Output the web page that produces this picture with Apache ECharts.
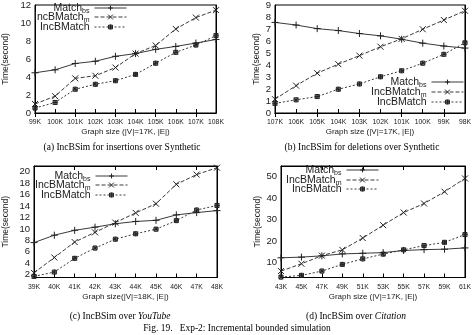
<!DOCTYPE html>
<html>
<head>
<meta charset="utf-8">
<script src="https://cdn.jsdelivr.net/npm/echarts@6/dist/echarts.min.js"></script>
<style>
html,body{margin:0;padding:0;background:#fff}
#c{width:474px;height:335px}
</style>
</head>
<body>
<div id="c"></div>
<script>
// Graph sizes on the x axes
const sizesA = ['99K','100K','101K','102K','103K','104K','105K','106K','107K','108K'];
const sizesB = ['107K','106K','105K','104K','103K','102K','101K','100K','99K','98K'];
const sizesC = ['39K','40K','41K','42K','43K','44K','45K','46K','47K','48K'];
const sizesD = ['43K','45K','47K','49K','51K','53K','55K','57K','59K','61K'];

// (a) insertions over Synthetic
const matchBsA = [4.47,4.8,5.5,5.75,6.3,6.6,7.07,7.4,7.77,8.17];
const incMA    = [1.0,1.87,3.85,4.14,5.05,6.6,7.5,9.34,10.6,11.43];
const incA     = [0.55,1.17,2.64,3.19,3.59,4.29,5.53,6.74,7.55,8.6];

// (b) deletions over Synthetic
const matchBsB = [7.55,7.33,7.03,6.87,6.62,6.43,6.15,5.82,5.58,5.41];
const incMB    = [1.15,2.28,3.32,4.07,4.78,5.52,6.18,6.98,7.75,8.52];
const incB     = [0.8,1.1,1.37,1.98,2.42,3.02,3.52,4.15,4.89,5.85];

// (c) YouTube
const matchBsC = [7.6,8.9,9.75,10.3,10.9,11.3,11.5,12.45,12.85,13.2];
const incMC    = [2.3,5.0,7.7,9.4,11.1,12.8,14.4,17.8,19.5,20.7];
const incC     = [1.7,2.45,4.85,6.65,8.2,9.15,9.95,11.45,13.3,14.1];

// (d) Citation
const matchBsD = [12.2,12.5,13.1,14.0,14.3,14.6,15.6,16.0,16.2,16.8];
const incMD    = [6.0,9.4,13.2,15.9,21.4,27.4,33.3,37.5,43.0,49.2];
const incD     = [3.2,4.0,6.0,9.1,11.7,13.9,15.9,17.9,19.4,23.0];

// Y tick labels
const ticksA = [0,2,4,6,8,10,12];
const ticksB = [0,1,2,3,4,5,6,7,8,9];
const ticksC = [2,4,6,8,10,12,14,16,18,20];
const ticksD = [10,20,30,40,50];

const SANS = 'Liberation Sans';
const SERIF = 'Liberation Serif';
const INK = '#1a1a1a';
const LINE = '#3a3a3a';

const NAME_BS = 'Match_bs', NAME_M = 'IncBMatch_m', NAME_I = 'IncBMatch';

const panels = [
  {grid:{left:31, top:4, width:185, height:109}, cats:sizesA, ticks:ticksA, min:0, max:12,
   xName:'Graph size (|V|=17K, |E|)', data:[matchBsA, incMA, incA], yGap:25,
   legend:{right:347, tops:[2.5, 11.5, 21.5]}},
  {grid:{left:275, top:4, width:192, height:109}, cats:sizesB, ticks:ticksB, min:0, max:9,
   xName:'Graph size (|V|=17K, |E|)', data:[matchBsB, incMB, incB], yGap:14,
   legend:{right:10, tops:[76.5, 86.5, 96.5]}},
  {grid:{left:30, top:166, width:187, height:111.5}, cats:sizesC, ticks:ticksC, min:1.5, max:21,
   xName:'Graph size(|V|=18K, |E|)', data:[matchBsC, incMC, incC], yGap:24,
   legend:{right:346, tops:[170.5, 179.5, 189.5]}},
  {grid:{left:281, top:166, width:186, height:111.5}, cats:sizesD, ticks:ticksD, min:3, max:55,
   xName:'Graph size (|V|=17K, |E|)', data:[matchBsD, incMD, incD], yGap:18,
   legend:{right:95, tops:[164.5, 174.5, 183.5]}}
];

const seriesStyle = [
  {name:NAME_BS, symbol:'path://M0,5L10,5M5,0L5,10', symbolSize:7, dash:'solid'},
  {name:NAME_M,  symbol:'path://M0,0L10,10M10,0L0,10', symbolSize:6, dash:[4,2]},
  {name:NAME_I,  symbol:'path://M1,1L9,1L9,9L1,9ZM0,5L10,5M5,0L5,10M1,1L9,9M9,1L1,9', symbolSize:5, dash:[2,2]}
];

const grids = [], xAxes = [], yAxes = [], series = [], legends = [];
const markStyle = {color:'transparent', borderColor:'#222', borderWidth:1};

panels.forEach((p, i) => {
  grids.push(Object.assign({show:true, borderColor:'#000', borderWidth:1, containLabel:false}, p.grid));
  const tickStyle = {inside:true, length:4, lineStyle:{color:'#000', width:1}};
  xAxes.push({
    type:'category', gridIndex:i, data:p.cats, boundaryGap:false, position:'bottom',
    axisLine:{show:true, lineStyle:{color:'#000', width:1}},
    axisTick:tickStyle,
    axisLabel:{interval:0, fontSize:6.8, color:INK, margin:6, fontFamily:SANS},
    splitLine:{show:false},
    name:p.xName, nameLocation:'middle', nameGap:15,
    nameTextStyle:{fontSize:8, color:INK, fontFamily:SANS}
  });
  xAxes.push({
    type:'category', gridIndex:i, data:p.cats, boundaryGap:false, position:'top',
    axisLine:{show:true, lineStyle:{color:'#000', width:1}},
    axisTick:tickStyle, axisLabel:{show:false}, splitLine:{show:false}
  });
  yAxes.push({
    type:'value', gridIndex:i, min:p.min, max:p.max, position:'left',
    axisLine:{show:true, lineStyle:{color:'#000', width:1}},
    axisTick:Object.assign({customValues:p.ticks}, tickStyle),
    axisLabel:{customValues:p.ticks, fontSize:9.5, color:INK, margin:4, fontFamily:SANS},
    splitLine:{show:false},
    name:'Time(second)', nameLocation:'middle', nameGap:p.yGap, nameRotate:90,
    nameTextStyle:{fontSize:8.5, color:INK, fontFamily:SANS}
  });
  yAxes.push({
    type:'value', gridIndex:i, min:p.min, max:p.max, position:'right',
    axisLine:{show:true, lineStyle:{color:'#000', width:1}},
    axisTick:Object.assign({customValues:p.ticks}, tickStyle),
    axisLabel:{show:false}, splitLine:{show:false}
  });
  seriesStyle.forEach((s, k) => {
    series.push({
      type:'line', name:s.name, xAxisIndex:2*i, yAxisIndex:2*i,
      data:p.data[k], symbol:s.symbol, symbolSize:s.symbolSize, showAllSymbol:true,
      lineStyle:{color:LINE, width:1, type:s.dash},
      itemStyle:markStyle,
      emphasis:{disabled:true}, animation:false, z:3
    });
    legends.push({
      data:[s.name], orient:'vertical', align:'right', right:p.legend.right, top:p.legend.tops[k],
      padding:0, itemWidth:32, itemHeight:6, selectedMode:false, z:5,
      itemStyle:markStyle,
      lineStyle:{color:LINE, width:1, type:s.dash},
      formatter:function (name) {
        if (name === NAME_BS) return '{n|Match}{s|bs}';
        if (name === NAME_M) return '{n|IncBMatch}{s|m}';
        return '{n|IncBMatch}';
      },
      textStyle:{
        color:INK, fontFamily:SANS, fontSize:10.5,
        rich:{
          n:{fontSize:10.5, fontFamily:SANS, color:INK},
          s:{fontSize:7, fontFamily:SANS, color:INK, padding:[6,0,0,0]}
        }
      }
    });
  });
});

const captionStyle = {fontFamily:SERIF, fontSize:9.5, fontWeight:'normal', color:'#000',
  rich:{
    n:{fontFamily:SERIF, fontSize:9.5, color:'#000'},
    i:{fontFamily:SERIF, fontSize:9.5, fontStyle:'italic', color:'#000'}
  }};

const titles = [
  {text:'(a) IncBSim for insertions over Synthetic', left:122, top:142},
  {text:'(b) IncBSim for deletions over Synthetic', left:362, top:142},
  {text:'{n|(c) IncBSim over }{i|YouTube}', left:120, top:311},
  {text:'{n|(d) IncBSim over }{i|Citation}', left:356, top:311},
  {text:'Fig. 19.   Exp-2: Incremental bounded simulation', left:237, top:323}
].map(t => Object.assign({textAlign:'center', padding:0, textStyle:captionStyle}, t));

const chart = echarts.init(document.getElementById('c'), null, {renderer:'canvas'});
chart.setOption({
  animation:false,
  backgroundColor:'#fff',
  title:titles,
  grid:grids,
  xAxis:xAxes,
  yAxis:yAxes,
  legend:legends,
  series:series
});
</script>
</body>
</html>
